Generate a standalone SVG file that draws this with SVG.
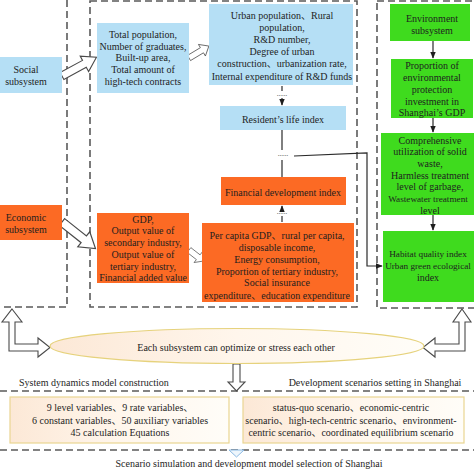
<svg xmlns="http://www.w3.org/2000/svg" width="474" height="474" viewBox="0 0 474 474">
<style>
text{font-family:"Liberation Serif","Noto Sans CJK SC",serif;font-size:10px;fill:#1e1e1e;text-anchor:middle}
.blue{fill:#b5dff5}
.orange{fill:#fc6a24}
.green{fill:#3fdb1e}
.panel{fill:none;stroke:#5a5a5a;stroke-width:1.6;stroke-dasharray:7 4}
.conn{fill:none;stroke:#2a2a2a;stroke-width:1.2}
.hollow{fill:#fff;stroke:#4a4a4a;stroke-width:1.1}
.dots{font-size:7px;fill:#333}
.lab{text-anchor:start}
.fit{font-size:9.2px}
.cream{fill:url(#cg);stroke:#e9d592;stroke-width:1.2}
</style>
<defs>
<marker id="ah" viewBox="0 0 10 10" refX="9" refY="5" markerWidth="6" markerHeight="6" orient="auto">
<path d="M0,1 L10,5 L0,9 Z" fill="#1e1e1e"/>
</marker>
<path id="barrow" d="M0,-4 L26,-4 L26,-9 L40,0 L26,9 L26,4 L0,4 Z"/>
<linearGradient id="cg" x1="0" y1="0" x2="1" y2="0">
<stop offset="0" stop-color="#fce8d6"/>
<stop offset="0.5" stop-color="#fff6ec"/>
<stop offset="1" stop-color="#fffdf8"/>
</linearGradient>
</defs>

<g id="panels">
<path class="panel" d="M67,0 L67,307 L-2,307"/>
<rect class="panel" x="90" y="1" width="267" height="306"/>
<rect class="panel" x="377" y="1" width="110" height="307"/>
<line class="panel" x1="0" y1="391" x2="474" y2="391"/>
<line class="panel" x1="0" y1="450" x2="474" y2="450"/>
</g>

<g id="connectors">
<use href="#barrow" class="hollow" transform="translate(62,76) rotate(-28.5) scale(0.98)"/>
<use href="#barrow" class="hollow" transform="translate(62,222) rotate(38.5) scale(1.07)"/>
<use href="#barrow" class="hollow" transform="translate(189,58) rotate(-31) scale(0.58,0.75)"/>
<use href="#barrow" class="hollow" transform="translate(189,250) rotate(38) scale(0.45,0.75)"/>
<line class="conn" x1="282" y1="86" x2="282" y2="91"/>
<text class="dots" x="282" y="96">......</text>
<line class="conn" x1="282" y1="98" x2="282" y2="105" marker-end="url(#ah)"/>
<line class="conn" x1="282" y1="130" x2="282" y2="150"/>
<text class="dots" x="283" y="156">......</text>
<line class="conn" x1="282" y1="160" x2="282" y2="177"/>
<path class="conn" d="M294,156 L367,153 L367,266 L382,266" marker-end="url(#ah)"/>
<line class="conn" x1="282" y1="222" x2="282" y2="216"/>
<text class="dots" x="282" y="214">......</text>
<line class="conn" x1="282" y1="211" x2="282" y2="206" marker-end="url(#ah)"/>
<line class="conn" x1="433" y1="41" x2="433" y2="58" marker-end="url(#ah)"/>
<line class="conn" x1="433" y1="118" x2="433" y2="132" marker-end="url(#ah)"/>
<line class="conn" x1="433" y1="215" x2="433" y2="230" marker-end="url(#ah)"/>
<path class="hollow" d="M12,309 L22,322 L15,322 L15,344 L38,344 L38,338 L50,347.5 L38,357 L38,351 L9,351 L9,322 L2,322 Z"/>
<path class="hollow" d="M462,309 L471,322 L465,322 L465,351 L435,351 L435,357 L423,347.5 L435,338 L435,344 L459,344 L459,322 L453,322 Z"/>
<path class="hollow" d="M233,364 L240,364 L240,382 L245,382 L236.5,391 L228,382 L233,382 Z"/>
<path d="M229,450 L244,450 L236.5,457 Z" fill="#eef6fc" stroke="#8ab9e3" stroke-width="1"/>
</g>

<g id="social">
<rect class="blue" x="-2" y="57" width="64" height="36"/>
<text x="26" y="73">Social</text>
<text x="26" y="85">subsystem</text>
</g>

<g id="social-vars">
<rect class="blue" x="97" y="23" width="92" height="70"/>
<text x="143" y="38">Total population,</text>
<text x="143" y="49.7">Number of graduates,</text>
<text x="143" y="61.4">Built-up area,</text>
<text x="143" y="73.1">Total amount of</text>
<text x="143" y="84.8">high-tech contracts</text>
</g>

<g id="urban">
<rect class="blue" x="209" y="4" width="144" height="81"/>
<text x="282" y="18.5">Urban population、Rural</text>
<text x="282" y="30.5">population,</text>
<text x="282" y="42.5">R&amp;D number,</text>
<text x="282" y="55">Degree of urban</text>
<text x="282" y="67">construction、urbanization rate,</text>
<text x="282" y="79.5">Internal expenditure of R&amp;D funds</text>
</g>

<g id="resident">
<rect class="blue" x="220" y="106" width="126" height="24"/>
<text x="283" y="123">Resident’s life index</text>
</g>

<g id="financial">
<rect class="orange" x="221" y="177" width="125" height="28"/>
<text x="283" y="195.5">Financial development index</text>
</g>

<g id="economic">
<rect class="orange" x="-2" y="205" width="64" height="35"/>
<text x="26" y="221">Economic</text>
<text x="26" y="233">subsystem</text>
</g>

<g id="gdp">
<rect class="orange" x="97" y="213" width="92" height="70"/>
<text x="143" y="222.5">GDP,</text>
<text x="143" y="234.3">Output value of</text>
<text x="143" y="246">secondary industry,</text>
<text x="143" y="257.7">Output value of</text>
<text x="143" y="269.5">tertiary industry,</text>
<text x="143" y="281.3">Financial added value</text>
</g>

<g id="percapita">
<rect class="orange" x="202" y="223" width="152" height="79"/>
<text x="277" y="238.5">Per capita GDP、rural per capita,</text>
<text x="277" y="250.5">disposable income,</text>
<text x="277" y="262.5">Energy consumption,</text>
<text x="277" y="274.5">Proportion of tertiary industry,</text>
<text x="277" y="286">Social insurance</text>
<text x="277" y="298.5">expenditure、education expenditure</text>
</g>

<g id="environment">
<rect class="green" x="390" y="4" width="80" height="37"/>
<text x="432" y="21.5">Environment</text>
<text x="432" y="33.5">subsystem</text>
</g>

<g id="proportion">
<rect class="green" x="391" y="59" width="82" height="59"/>
<text x="432" y="68.5">Proportion of</text>
<text x="432" y="80.5">environmental</text>
<text x="432" y="92.5">protection</text>
<text x="432" y="104.5">investment in</text>
<text x="432" y="116">Shanghai’s GDP</text>
</g>

<g id="comprehensive">
<rect class="green" x="381" y="133" width="100" height="82"/>
<text x="430" y="143.5">Comprehensive</text>
<text x="430" y="155.3">utilization of solid</text>
<text x="430" y="166.8">waste,</text>
<text x="430" y="178.5">Harmless treatment</text>
<text x="430" y="190.3">level of garbage,</text>
<text class="fit" x="428" y="202">Wastewater treatment</text>
<text x="430" y="213.5">level</text>
</g>

<g id="habitat">
<rect class="green" x="383" y="231" width="100" height="71"/>
<text class="fit" x="428" y="256.5">Habitat quality index</text>
<text class="fit" x="428" y="268.5">Urban green ecological</text>
<text x="428" y="280.5">index</text>
</g>

<g id="interaction">
<ellipse cx="237" cy="346" rx="187" ry="17.5" fill="url(#cg)" stroke="#e6d27c" stroke-width="1.2"/>
<text x="236" y="350.5">Each subsystem can optimize or stress each other</text>
</g>

<text class="lab" x="19" y="386">System dynamics model construction</text>
<text x="375" y="386">Development scenarios setting in Shanghai</text>

<g id="sd-model">
<rect class="cream" x="10" y="397" width="219" height="46"/>
<text x="120" y="411">9 level variables、9 rate variables、</text>
<text x="120" y="423.5">6 constant variables、50 auxiliary variables</text>
<text x="120" y="436">45 calculation Equations</text>
</g>

<g id="scenarios">
<rect class="cream" x="243" y="397" width="221" height="46"/>
<text x="351" y="411">status-quo scenario、economic-centric</text>
<text x="351" y="423.5">scenario、high-tech-centric scenario、environment-</text>
<text x="351" y="436">centric scenario、coordinated equilibrium scenario</text>
</g>

<text x="249" y="467">Scenario simulation and development model selection of Shanghai</text>
</svg>
